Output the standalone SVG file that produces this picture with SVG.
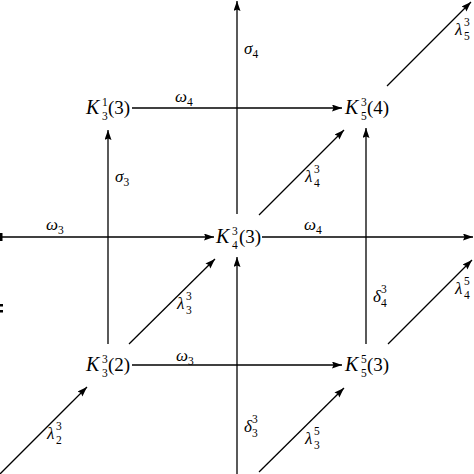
<svg xmlns="http://www.w3.org/2000/svg" width="474" height="474" viewBox="0 0 474 474">
<style>
.ln{stroke:#000;stroke-width:1.3;fill:none}
.ar{marker-end:url(#arr)}
.nd{font-family:'Liberation Serif','DejaVu Serif',serif;font-size:19px;fill:#000}
.k{font-style:italic;font-size:20px}
.sc{font-size:11.5px}
.lb{font-family:'Liberation Serif','DejaVu Serif',serif;font-size:17px;font-style:italic;fill:#000}
.ls{font-size:11.5px;font-style:normal}
</style>
<defs>
<marker id="arr" markerUnits="userSpaceOnUse" markerWidth="10" markerHeight="8" refX="10" refY="3.5" orient="auto">
<path d="M0,0 L10,3.5 L0,7 L1.5,3.5 z" fill="#000"/>
</marker>
</defs>
<rect width="474" height="474" fill="#fff"/>
<g id="connectors">
<line class="ln ar" x1="108" y1="344" x2="108" y2="130"/>
<line class="ln ar" x1="237" y1="214" x2="237" y2="1"/>
<line class="ln ar" x1="237" y1="475" x2="237" y2="257"/>
<line class="ln ar" x1="366" y1="344" x2="366" y2="128"/>
<line class="ln ar" x1="132" y1="108" x2="342" y2="108"/>
<line class="ln ar" x1="0" y1="237" x2="214" y2="237"/>
<line class="ln ar" x1="262" y1="237" x2="473" y2="237"/>
<line class="ln ar" x1="132" y1="365" x2="342" y2="365"/>
<line class="ln ar" x1="-5" y1="479" x2="87" y2="387"/>
<line class="ln ar" x1="129" y1="344" x2="215" y2="259"/>
<line class="ln ar" x1="259" y1="215" x2="344" y2="130"/>
<line class="ln ar" x1="387" y1="86" x2="471" y2="2"/>
<line class="ln ar" x1="259" y1="472" x2="344" y2="388"/>
<line class="ln ar" x1="388" y1="344" x2="472" y2="260"/>
<rect x="0" y="233" width="2.5" height="8" fill="#000"/>
</g>
<g id="node-K31-3" class="nd">
<text x="86" y="114" class="k">K</text>
<text x="102" y="106" class="sc">1</text>
<text x="102" y="120" class="sc">3</text>
<text x="108" y="114">(3)</text>
</g>
<g id="node-K53-4" class="nd">
<text x="345" y="114" class="k">K</text>
<text x="361" y="106" class="sc">3</text>
<text x="361" y="120" class="sc">5</text>
<text x="367" y="114">(4)</text>
</g>
<g id="node-K43-3" class="nd">
<text x="216" y="243" class="k">K</text>
<text x="232" y="235" class="sc">3</text>
<text x="232" y="249" class="sc">4</text>
<text x="239" y="243">(3)</text>
</g>
<g id="node-K33-2" class="nd">
<text x="86" y="371" class="k">K</text>
<text x="102" y="363" class="sc">3</text>
<text x="102" y="377" class="sc">3</text>
<text x="108" y="371">(2)</text>
</g>
<g id="node-K55-3" class="nd">
<text x="345" y="371" class="k">K</text>
<text x="361" y="363" class="sc">5</text>
<text x="361" y="377" class="sc">5</text>
<text x="367" y="371">(3)</text>
</g>
<g id="labels" class="lb">
<text x="244" y="54">σ<tspan class="ls" dy="4">4</tspan></text>
<text x="115" y="182">σ<tspan class="ls" dy="4">3</tspan></text>
<text x="175" y="102">ω<tspan class="ls" dy="4">4</tspan></text>
<text x="46" y="230">ω<tspan class="ls" dy="4">3</tspan></text>
<text x="304" y="230">ω<tspan class="ls" dy="4">4</tspan></text>
<text x="176" y="361">ω<tspan class="ls" dy="4">3</tspan></text>
<text x="177" y="309">λ</text><text x="186" y="300" class="ls">3</text><text x="186" y="314" class="ls">3</text>
<text x="47" y="439">λ</text><text x="56" y="430" class="ls">3</text><text x="56" y="444" class="ls">2</text>
<text x="305" y="182">λ</text><text x="314" y="173" class="ls">3</text><text x="314" y="187" class="ls">4</text>
<text x="455" y="35">λ</text><text x="464" y="26" class="ls">3</text><text x="464" y="40" class="ls">5</text>
<text x="455" y="294">λ</text><text x="464" y="285" class="ls">5</text><text x="464" y="299" class="ls">4</text>
<text x="305" y="444">λ</text><text x="314" y="435" class="ls">5</text><text x="314" y="449" class="ls">3</text>
<text x="373" y="302">δ</text><text x="381" y="293" class="ls">3</text><text x="381" y="307" class="ls">4</text>
<text x="244" y="432">δ</text><text x="252" y="423" class="ls">3</text><text x="252" y="437" class="ls">3</text>
</g>
<rect x="0" y="304" width="3" height="2.5" fill="#000"/>
<rect x="0" y="310" width="3" height="2.5" fill="#000"/>
</svg>
